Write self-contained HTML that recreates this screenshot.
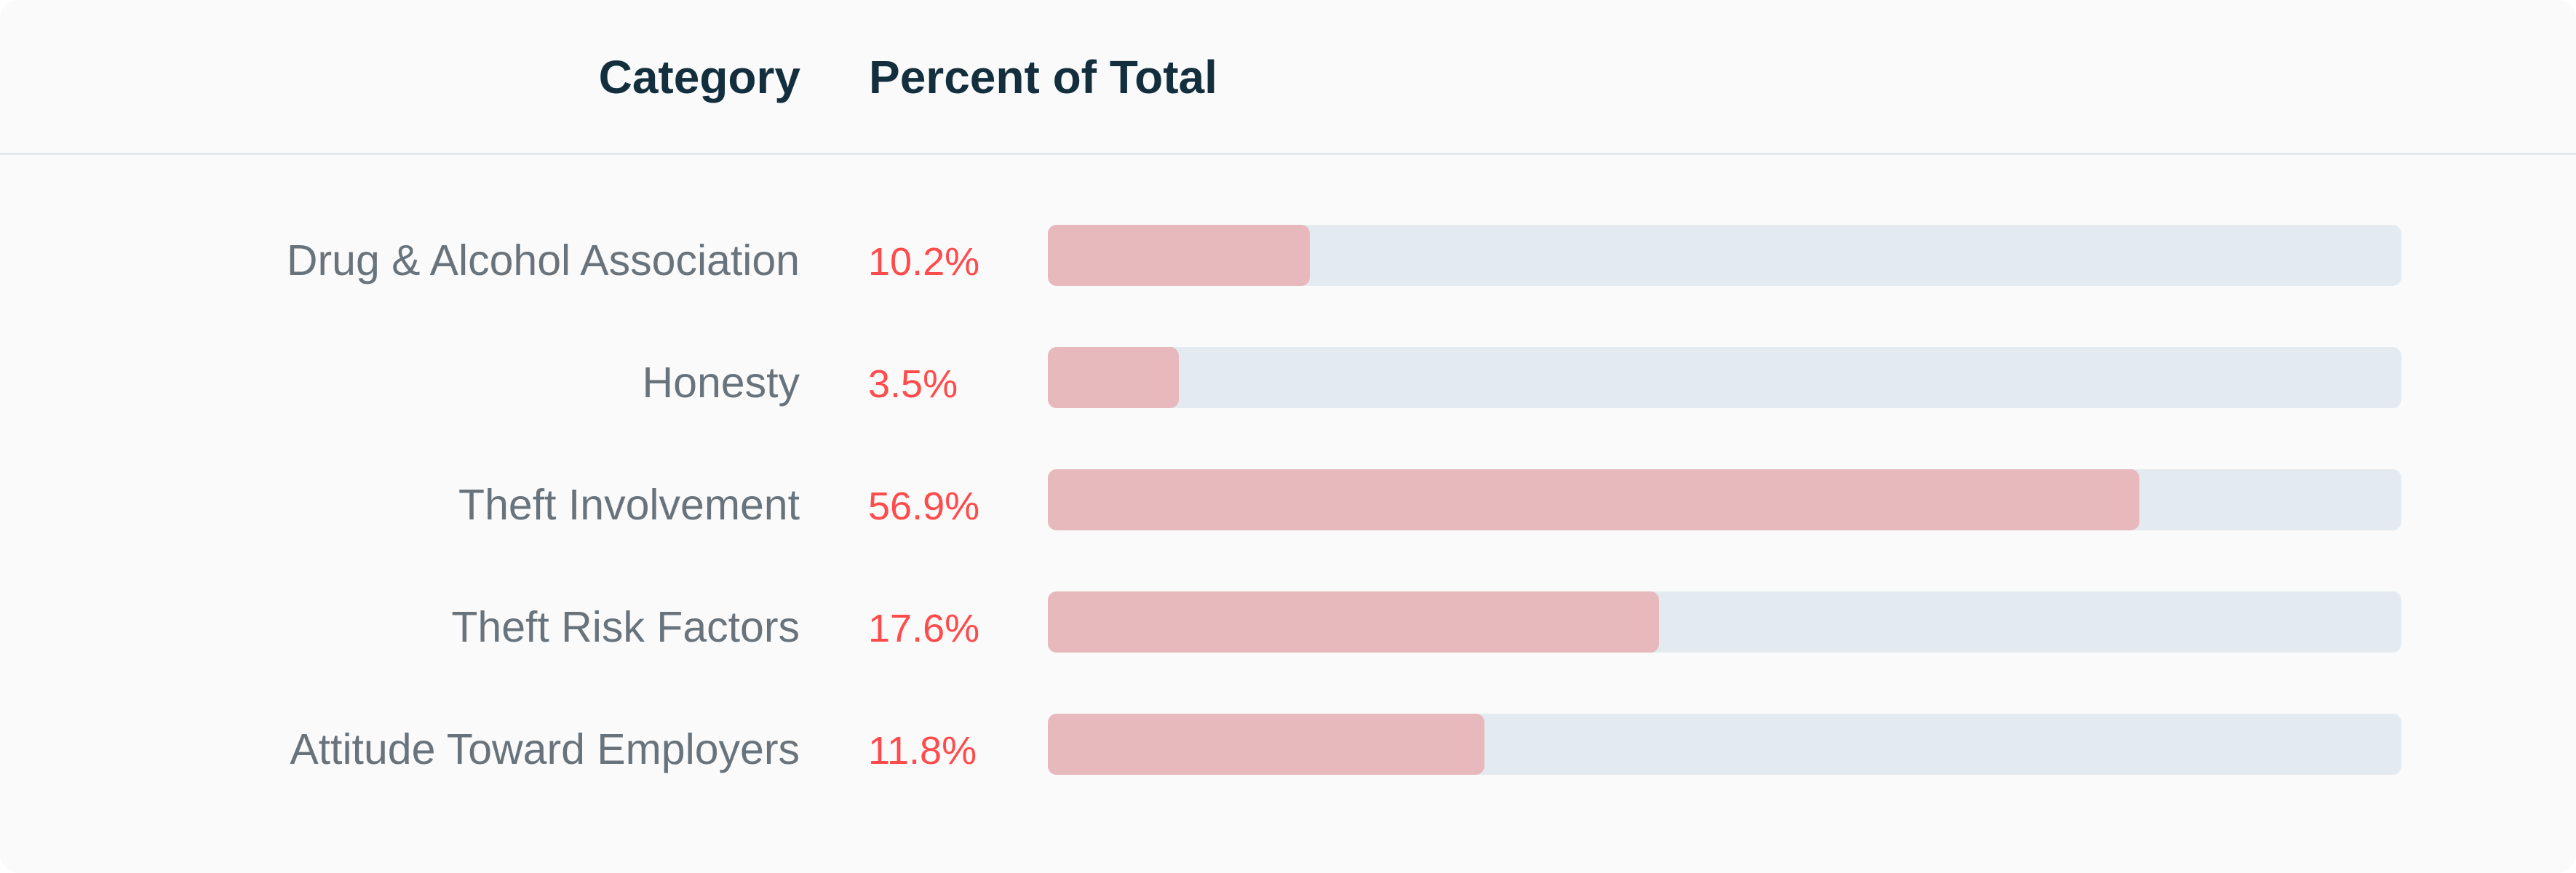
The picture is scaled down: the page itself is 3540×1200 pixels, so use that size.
<!DOCTYPE html>
<html>
<head>
<meta charset="utf-8">
<style>
  html, body { margin: 0; padding: 0; background: #ffffff; }
  body { width: 3540px; height: 1200px; overflow: hidden; }
  svg { display: block; }
  text { font-family: "Liberation Sans", "DejaVu Sans", sans-serif; }
</style>
</head>
<body>
<svg width="3540" height="1200" viewBox="0 0 3540 1200" xmlns="http://www.w3.org/2000/svg">
  <rect x="0" y="0" width="3540" height="1200" rx="26" ry="26" fill="#fafafa"/>
  <rect x="0" y="210" width="3540" height="3" fill="#e6e9ec"/>

  <text x="1100" y="128" text-anchor="end" font-size="64" font-weight="bold" fill="#132f3e">Category</text>
  <text x="1194" y="128" text-anchor="start" font-size="64" font-weight="bold" fill="#132f3e">Percent of Total</text>

  <g font-size="59" fill="#68737c" text-anchor="end">
    <text x="1099" y="378">Drug &amp; Alcohol Association</text>
    <text x="1099" y="546">Honesty</text>
    <text x="1099" y="714">Theft Involvement</text>
    <text x="1099" y="882">Theft Risk Factors</text>
    <text x="1099" y="1050">Attitude Toward Employers</text>
  </g>

  <g font-size="54" fill="#ff4b4b" text-anchor="start">
    <text x="1193" y="378">10.2%</text>
    <text x="1193" y="546">3.5%</text>
    <text x="1193" y="714">56.9%</text>
    <text x="1193" y="882">17.6%</text>
    <text x="1193" y="1050">11.8%</text>
  </g>

  <g fill="#e3ebf1">
    <rect x="1440" y="309" width="1860" height="84" rx="12" ry="12"/>
    <rect x="1440" y="477" width="1860" height="84" rx="12" ry="12"/>
    <rect x="1440" y="645" width="1860" height="84" rx="12" ry="12"/>
    <rect x="1440" y="813" width="1860" height="84" rx="12" ry="12"/>
    <rect x="1440" y="981" width="1860" height="84" rx="12" ry="12"/>
  </g>
  <g fill="#e8b9bc">
    <rect x="1440" y="309" width="360" height="84" rx="12" ry="12"/>
    <rect x="1440" y="477" width="180" height="84" rx="12" ry="12"/>
    <rect x="1440" y="645" width="1500" height="84" rx="12" ry="12"/>
    <rect x="1440" y="813" width="840" height="84" rx="12" ry="12"/>
    <rect x="1440" y="981" width="600" height="84" rx="12" ry="12"/>
  </g>
</svg>
</body>
</html>
